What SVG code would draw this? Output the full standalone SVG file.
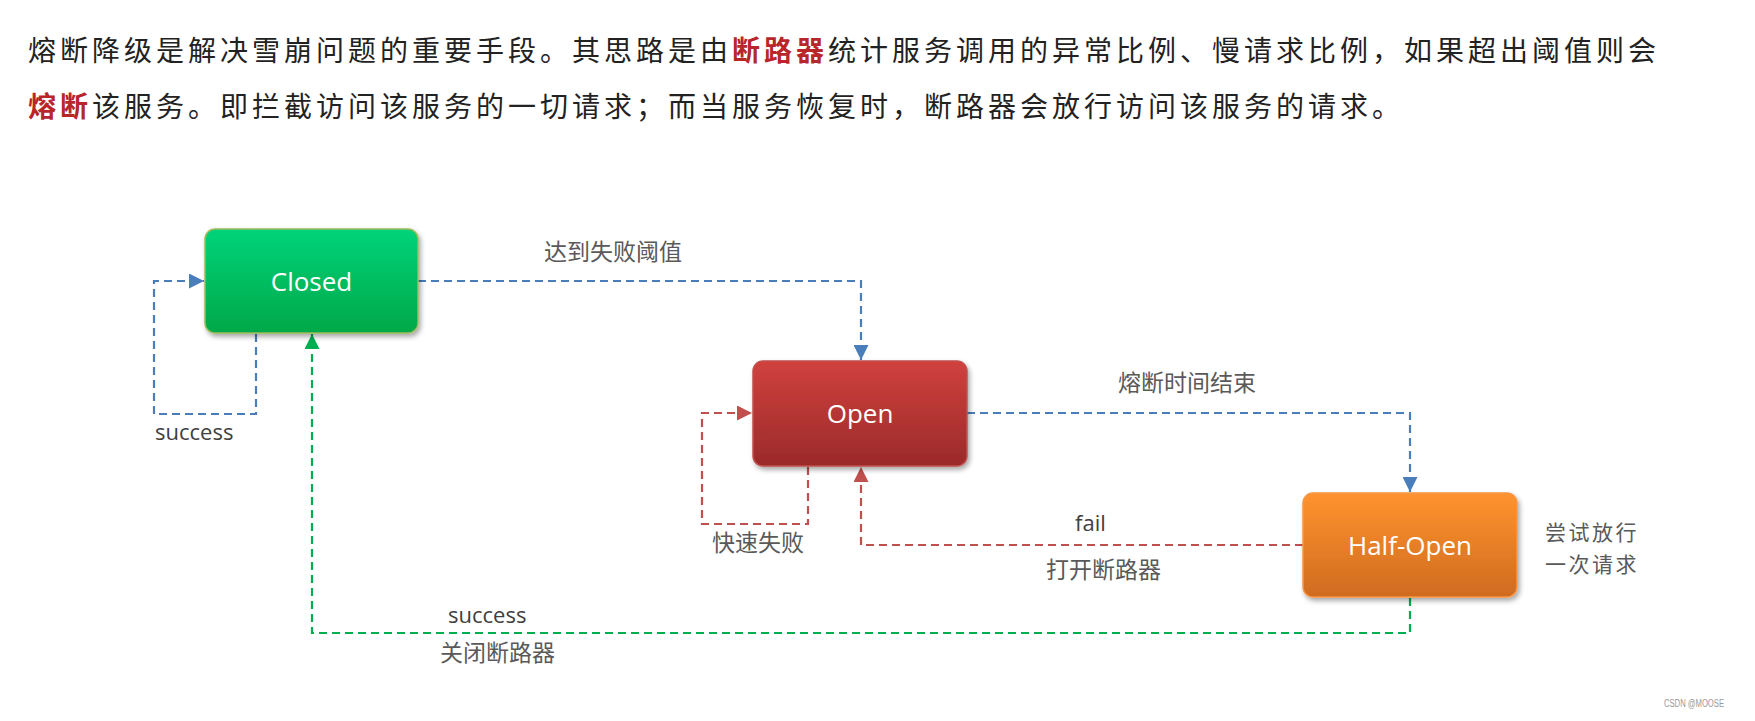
<svg xmlns="http://www.w3.org/2000/svg" width="1755" height="721" viewBox="0 0 1755 721">
<style>
.hd{font-family:"Noto Sans CJK SC","Noto Sans",sans-serif;font-size:28px;fill:#222;letter-spacing:4px}
.em{fill:#B8262A;font-weight:bold}
.lbl{font-family:"Noto Sans CJK SC","Noto Sans",sans-serif;font-size:23px;fill:#595959}
.lbl2{font-family:"Noto Sans CJK SC","Noto Sans",sans-serif;font-size:21px;letter-spacing:2.5px;fill:#595959}
.en{font-family:"Open Sans","Noto Sans",sans-serif;font-size:22px;fill:#404040}
.box{font-family:"Open Sans","Noto Sans",sans-serif;font-size:26px;fill:#ffffff}
.ln{fill:none;stroke-width:2.2;stroke-dasharray:8,5}
.blue{stroke:#4A7EBB}
.red{stroke:#C0504D}
.green{stroke:#00B050}
</style>
<defs>
<linearGradient id="gGreen" x1="0" y1="0" x2="0" y2="1"><stop offset="0" stop-color="#00D37A"/><stop offset="1" stop-color="#00A848"/></linearGradient>
<linearGradient id="gRed" x1="0" y1="0" x2="0" y2="1"><stop offset="0" stop-color="#D0413E"/><stop offset="1" stop-color="#9B2A2A"/></linearGradient>
<linearGradient id="gOrange" x1="0" y1="0" x2="0" y2="1"><stop offset="0" stop-color="#FF932E"/><stop offset="1" stop-color="#CF6B1F"/></linearGradient>
<filter id="sh" x="-10%" y="-10%" width="130%" height="140%"><feDropShadow dx="2" dy="3" stdDeviation="2.5" flood-color="#000" flood-opacity="0.35"/></filter>
<marker id="aBlue" markerUnits="userSpaceOnUse" markerWidth="15" markerHeight="15" viewBox="0 0 12 12" refX="12" refY="6" orient="auto"><path d="M0,0 L12,6 L0,12 z" fill="#4A7EBB"/></marker>
<marker id="aRed" markerUnits="userSpaceOnUse" markerWidth="15" markerHeight="15" viewBox="0 0 12 12" refX="12" refY="6" orient="auto"><path d="M0,0 L12,6 L0,12 z" fill="#C0504D"/></marker>
<marker id="aGreen" markerUnits="userSpaceOnUse" markerWidth="15" markerHeight="15" viewBox="0 0 12 12" refX="12" refY="6" orient="auto"><path d="M0,0 L12,6 L0,12 z" fill="#00B050"/></marker>
</defs>
<rect width="1755" height="721" fill="#ffffff"/>
<g id="header">
<text class="hd" x="28" y="61">熔断降级是解决雪崩问题的重要手段。其思路是由<tspan class="em">断路器</tspan>统计服务调用的异常比例、慢请求比例，如果超出阈值则会</text>
<text class="hd" x="28" y="117"><tspan class="em">熔断</tspan>该服务。即拦截访问该服务的一切请求；而当服务恢复时，断路器会放行访问该服务的请求。</text>
</g>
<g id="connectors">
<path class="ln blue" d="M256,334 V414 H154 V281 H204" marker-end="url(#aBlue)"/>
<path class="ln blue" d="M418,281 H861 V360" marker-end="url(#aBlue)"/>
<path class="ln red" d="M808,467 V524 H702 V413 H752" marker-end="url(#aRed)"/>
<path class="ln blue" d="M967,413 H1410 V492" marker-end="url(#aBlue)"/>
<path class="ln red" d="M1303,545 H861 V467" marker-end="url(#aRed)"/>
<path class="ln green" d="M1410,598 V633 H312 V334" marker-end="url(#aGreen)"/>
</g>
<g id="labels">
<text class="lbl" x="544" y="260">达到失败阈值</text>
<text class="en" x="155" y="440">success</text>
<text class="lbl" x="1118" y="391">熔断时间结束</text>
<text class="lbl" x="712" y="551">快速失败</text>
<text class="en" x="1075" y="531">fail</text>
<text class="lbl" x="1046" y="578">打开断路器</text>
<text class="lbl2" x="1545" y="540">尝试放行</text>
<text class="lbl2" x="1545" y="572">一次请求</text>
<text class="en" x="448" y="623">success</text>
<text class="lbl" x="440" y="661">关闭断路器</text>
</g>
<g id="node-closed">
<rect x="205" y="229" width="213" height="104" rx="10" fill="url(#gGreen)" stroke="#9BBB59" stroke-width="1.5" filter="url(#sh)"/>
<text class="box" x="311.5" y="291" text-anchor="middle">Closed</text>
</g>
<g id="node-open">
<rect x="753" y="361" width="214" height="105" rx="10" fill="url(#gRed)" stroke="#C0504D" stroke-width="1.5" filter="url(#sh)"/>
<text class="box" x="860" y="423" text-anchor="middle">Open</text>
</g>
<g id="node-halfopen">
<rect x="1303" y="493" width="214" height="104" rx="10" fill="url(#gOrange)" stroke="#F79646" stroke-width="1.5" filter="url(#sh)"/>
<text class="box" x="1410" y="555" text-anchor="middle">Half-Open</text>
</g>
<text x="1664" y="707" font-family="Liberation Sans, sans-serif" font-size="10" fill="#999999" textLength="60" lengthAdjust="spacingAndGlyphs">CSDN @MOOSE</text>
</svg>
